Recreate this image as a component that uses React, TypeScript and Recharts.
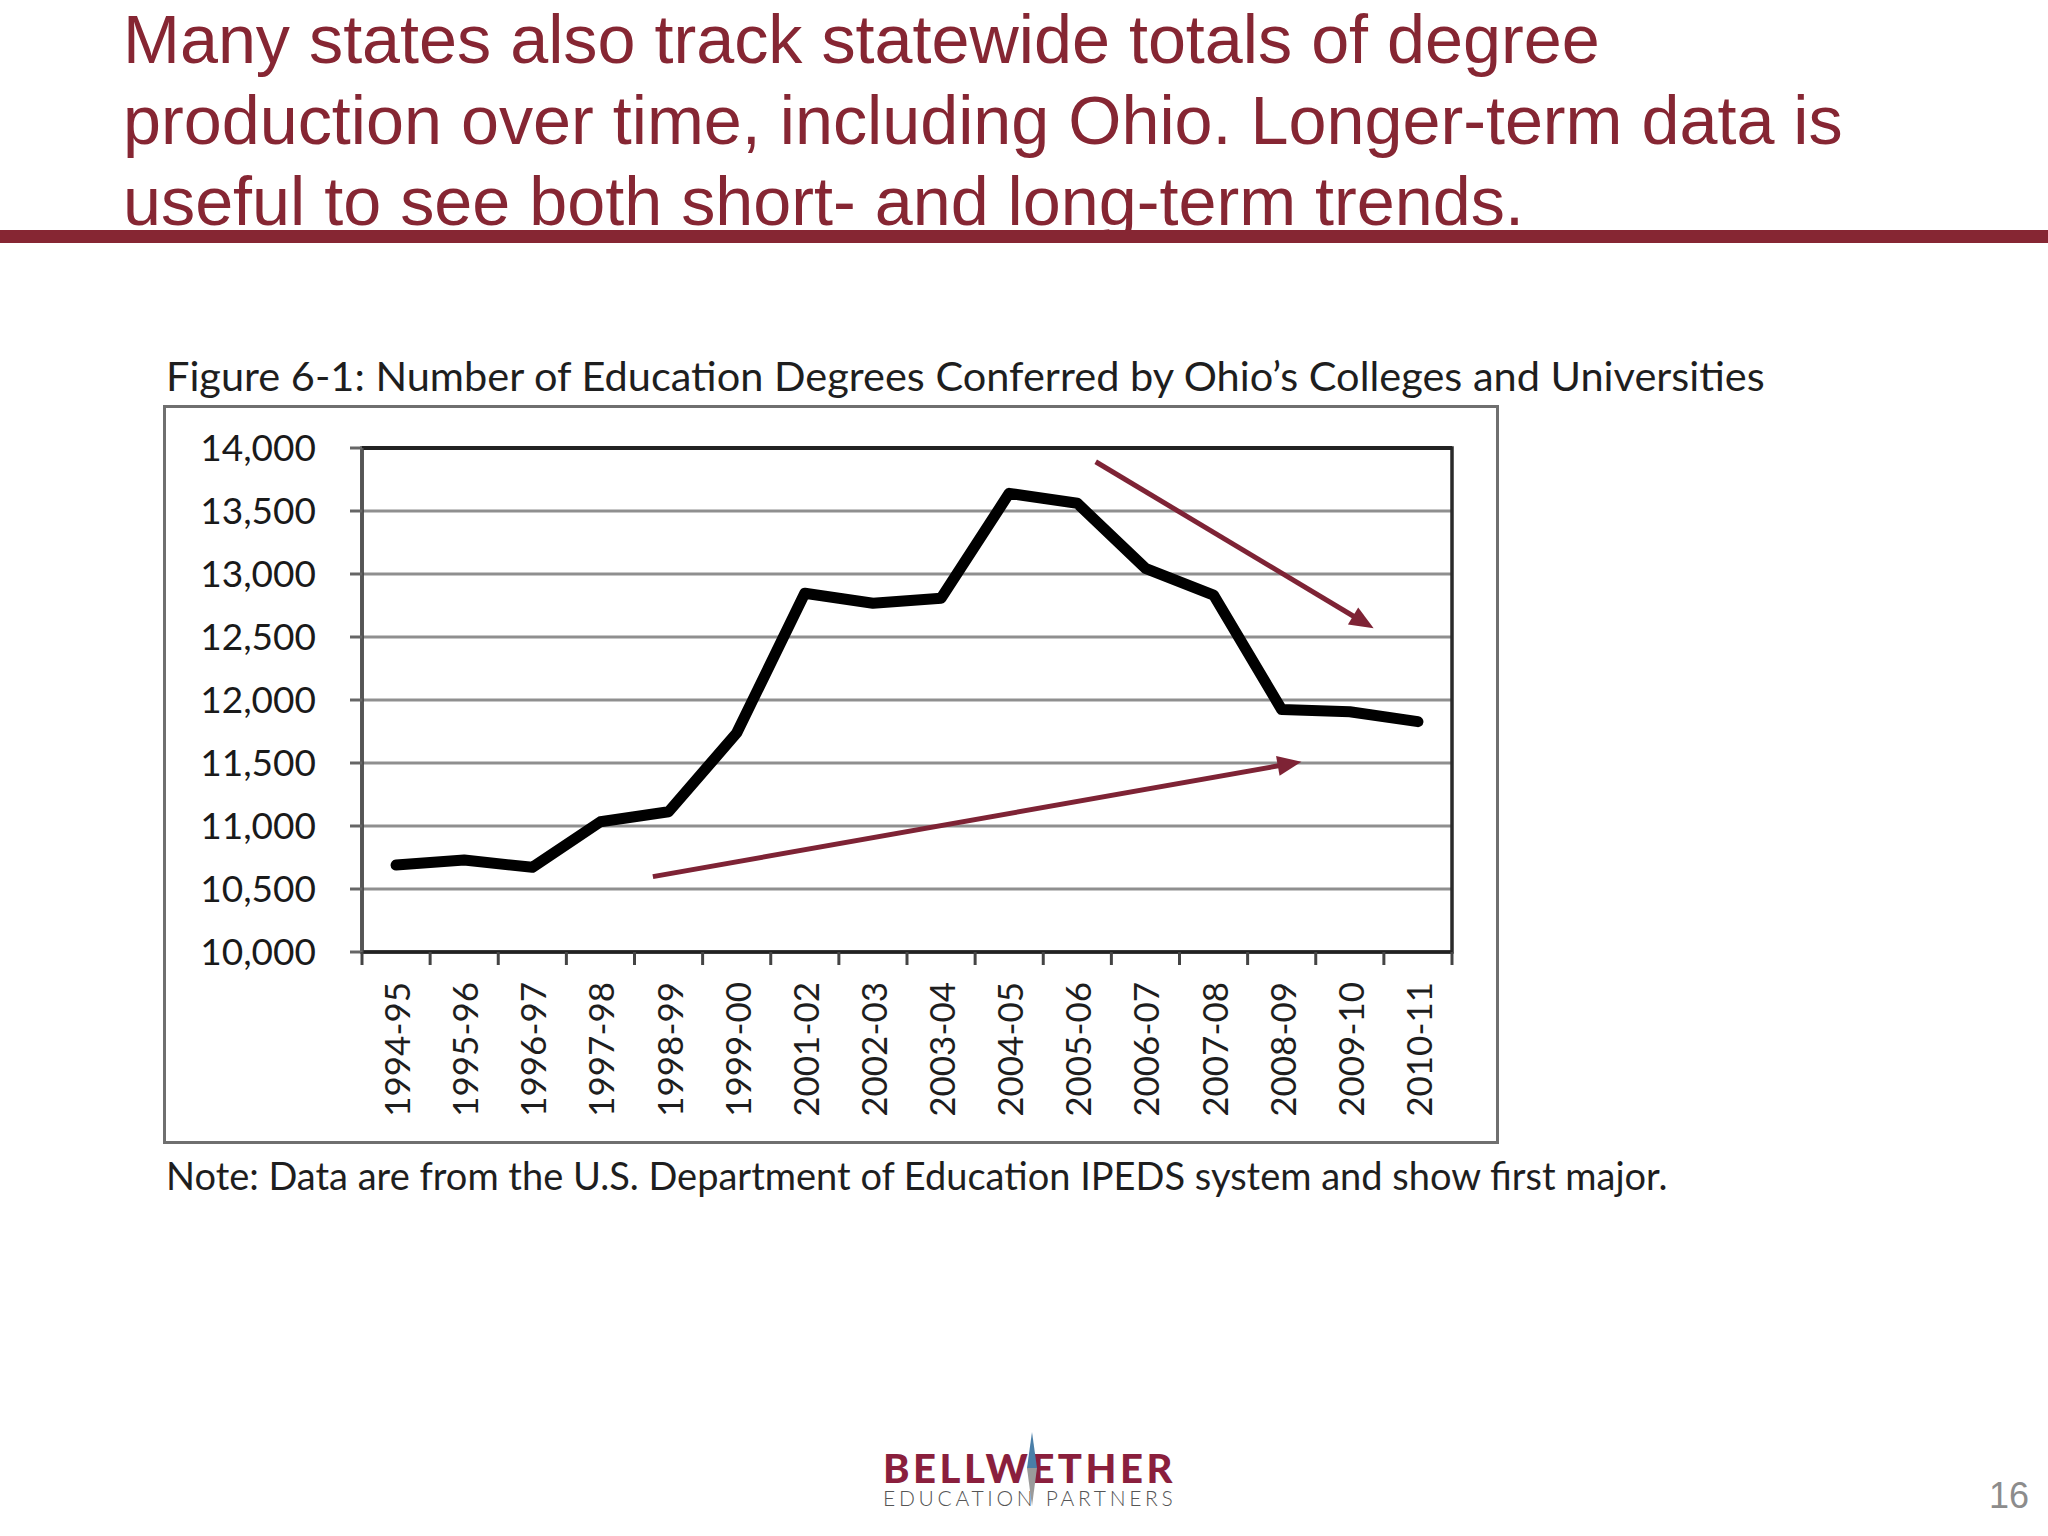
import React from 'react';
import {
  LineChart,
  Line,
  XAxis,
  YAxis,
  CartesianGrid,
  ReferenceLine,
  ReferenceArea,
} from 'recharts';

const titleLines = [
  'Many states also track statewide totals of degree',
  'production over time, including Ohio. Longer-term data is',
  'useful to see both short- and long-term trends.',
];

const years = [
  '1994-95', '1995-96', '1996-97', '1997-98', '1998-99', '1999-00',
  '2001-02', '2002-03', '2003-04', '2004-05', '2005-06', '2006-07',
  '2007-08', '2008-09', '2009-10', '2010-11',
];

const degrees = [
  10690, 10730, 10672, 11034, 11113, 11738,
  12847, 12768, 12807, 13640, 13561, 13045,
  12833, 11924, 11907, 11828,
];

const yTicks = [10000, 10500, 11000, 11500, 12000, 12500, 13000, 13500, 14000];

// trend arrows: x in category slots (0 = left edge, 16 = right edge), y in degrees
const arrowStartX = [4.27, 10.77];
const arrowStartY = [10598, 13891];
const arrowEndX = [13.79, 14.85];
const arrowEndY = [11510, 12569];

const MAROON = '#862633';
const ARROW = '#7e2335';
const PLOT_W = 1090;
const HALF_SLOT = PLOT_W / years.length / 2;

const data = years.map((year, i) => ({ year, slot: i + 0.5, degrees: degrees[i] }));

const YearTick = (props: any) => {
  const { x, y, payload, index } = props;
  const top = y - 30;
  return (
    <g>
      <line x1={x - HALF_SLOT} y1={top} x2={x - HALF_SLOT} y2={top + 13} stroke="#444" strokeWidth={3} />
      {index === years.length - 1 && (
        <line x1={x + HALF_SLOT} y1={top} x2={x + HALF_SLOT} y2={top + 13} stroke="#444" strokeWidth={3} />
      )}
      <text
        x={x}
        y={y}
        transform={`rotate(-90, ${x}, ${y})`}
        textAnchor="end"
        dominantBaseline="central"
        fontSize={35}
        fontFamily="Lato"
        fill="#1e1e1e"
      >
        {payload.value}
      </text>
    </g>
  );
};

const ArrowShape = (props: any) => {
  const { x1, y1, x2, y2 } = props;
  const dx = x2 - x1;
  const dy = y2 - y1;
  const len = Math.hypot(dx, dy) || 1;
  const ux = dx / len;
  const uy = dy / len;
  const headLen = 24;
  const headW = 10;
  const bx = x2 - ux * headLen;
  const by = y2 - uy * headLen;
  return (
    <g>
      <line x1={x1} y1={y1} x2={bx + ux * 2} y2={by + uy * 2} stroke={ARROW} strokeWidth={5} />
      <polygon
        points={`${x2},${y2} ${bx - uy * headW},${by + ux * headW} ${bx + uy * headW},${by - ux * headW}`}
        fill={ARROW}
      />
    </g>
  );
};

const DegreesChart = () => (
  <LineChart
    width={1336}
    height={739}
    data={data}
    margin={{ top: 43, right: 47, bottom: 42, left: 0 }}
  >
    <CartesianGrid vertical={false} stroke="#8f8f8f" strokeWidth={3} />
    <XAxis
      dataKey="year"
      interval={0}
      height={150}
      padding={{ left: HALF_SLOT, right: HALF_SLOT }}
      tickLine={false}
      tickSize={13}
      tickMargin={17}
      axisLine={{ stroke: '#222', strokeWidth: 3 }}
      tick={<YearTick />}
    />
    <XAxis
      xAxisId="num"
      dataKey="slot"
      type="number"
      domain={[0, 16]}
      allowDataOverflow
      hide
    />
    <YAxis
      width={199}
      domain={[10000, 14000]}
      ticks={yTicks}
      interval={0}
      tickSize={12}
      tickMargin={34}
      axisLine={{ stroke: '#555', strokeWidth: 3 }}
      tickLine={{ stroke: '#666', strokeWidth: 3 }}
      tick={{ fontSize: 37, fontFamily: 'Lato', fill: '#1a1a1a' }}
      tickFormatter={(v: number) => v.toLocaleString('en-US')}
    />
    <ReferenceArea
      xAxisId="num"
      x1={0}
      x2={16}
      y1={10000}
      y2={14000}
      fill="none"
      stroke="#2a2a2a"
      strokeWidth={3.5}
      ifOverflow="visible"
    />
    <ReferenceLine y={14000} stroke="#222" strokeWidth={4} />
    <Line
      dataKey="degrees"
      stroke="#000"
      strokeWidth={11}
      strokeLinejoin="round"
      strokeLinecap="round"
      dot={false}
      isAnimationActive={false}
    />
    {arrowStartX.map((sx, i) => (
      <ReferenceLine
        key={i}
        xAxisId="num"
        segment={[
          { x: sx, y: arrowStartY[i] },
          { x: arrowEndX[i], y: arrowEndY[i] },
        ]}
        shape={ArrowShape}
        ifOverflow="visible"
      />
    ))}
  </LineChart>
);

export default function App() {
  return (
    <div
      style={{
        position: 'absolute',
        left: 0,
        top: 0,
        width: 2048,
        height: 1536,
        background: '#fff',
        overflow: 'hidden',
      }}
    >
      {titleLines.map((t, i) => (
        <div
          key={i}
          style={{
            position: 'absolute',
            left: 123,
            top: -1 + i * 81,
            fontFamily: '"Liberation Sans", Arial, sans-serif',
            fontSize: 68.3,
            lineHeight: '81px',
            color: MAROON,
            whiteSpace: 'nowrap',
          }}
        >
          {t}
        </div>
      ))}
      <div style={{ position: 'absolute', left: 0, top: 230, width: 2048, height: 13, background: MAROON }} />

      <div
        style={{
          position: 'absolute',
          left: 166,
          top: 351,
          fontFamily: 'Lato, sans-serif',
          fontSize: 41.5,
          lineHeight: 1.2,
          color: '#1e1e1e',
          whiteSpace: 'nowrap',
        }}
      >
        Figure 6-1: Number of Education Degrees Conferred by Ohio’s Colleges and Universities
      </div>

      <div
        style={{
          position: 'absolute',
          left: 163,
          top: 405,
          width: 1336,
          height: 739,
          boxSizing: 'border-box',
          border: '3px solid #6f6f6f',
        }}
      />
      <div style={{ position: 'absolute', left: 163, top: 405 }}>
        <DegreesChart />
      </div>

      <div
        style={{
          position: 'absolute',
          left: 166,
          top: 1153,
          fontFamily: 'Lato, sans-serif',
          fontSize: 38,
          lineHeight: 1.2,
          color: '#1e1e1e',
          whiteSpace: 'nowrap',
        }}
      >
        Note: Data are from the U.S. Department of Education IPEDS system and show first major.
      </div>

      <div
        style={{
          position: 'absolute',
          left: 883,
          top: 1452,
          fontFamily: 'Lato, sans-serif',
          fontWeight: 900,
          fontSize: 40,
          lineHeight: 0.8,
          letterSpacing: 3.5,
          color: '#8a1f3d',
          whiteSpace: 'nowrap',
        }}
      >
        BELLWETHER
      </div>
      <div
        style={{
          position: 'absolute',
          left: 883,
          top: 1490,
          fontFamily: 'Lato, sans-serif',
          fontWeight: 300,
          fontSize: 21,
          lineHeight: 0.8,
          letterSpacing: 3.7,
          color: '#555',
          whiteSpace: 'nowrap',
        }}
      >
        EDUCATION PARTNERS
      </div>
      <svg style={{ position: 'absolute', left: 1024, top: 1432 }} width={16} height={74}>
        <polygon points="8,0 13,36 3,36" fill="#4a7fa8" />
        <polygon points="3,36 13,36 8,74" fill="#9a9a9a" />
      </svg>

      <div
        style={{
          position: 'absolute',
          left: 1989,
          top: 1475,
          fontFamily: '"Liberation Sans", Arial, sans-serif',
          fontSize: 36,
          lineHeight: 1.149,
          color: '#8c8c8c',
        }}
      >
        16
      </div>
    </div>
  );
}
